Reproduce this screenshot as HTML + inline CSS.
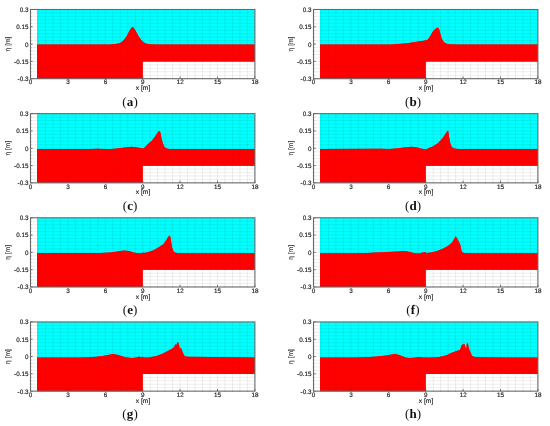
<!DOCTYPE html>
<html><head><meta charset="utf-8"><title>Figure</title>
<style>
html,body{margin:0;padding:0;background:#fff;}
body{width:550px;height:426px;overflow:hidden;}
svg{display:block}
.t{font-family:"Liberation Sans",sans-serif;font-size:6.3px;fill:#1a1a1a;stroke:#1a1a1a;stroke-width:0.15px;text-rendering:geometricPrecision;}
.c{font-family:"Liberation Serif",serif;font-size:13px;fill:#111;letter-spacing:0.15px;text-rendering:geometricPrecision;}
.a{font-size:6.7px}
.b{font-weight:bold}
</style></head><body>
<svg width="550" height="426" viewBox="0 0 550 426">
<rect width="550" height="426" fill="#fff"/>
<g transform="translate(30.5,9.5)">
<rect x="0" y="0" width="224.4" height="69.2" fill="#fff"/>
<rect x="6.5" y="0" width="217.9" height="52.05" fill="#00ffff"/>
<path d="M6.50,35.10 L70.00,35.10 L79.50,34.90 L84.70,34.50 L89.10,33.70 L91.70,32.06 L93.90,29.79 L96.10,26.70 L97.80,23.50 L99.40,20.41 L100.90,18.20 L102.00,17.50 L103.20,18.20 L104.80,20.82 L106.60,23.92 L108.30,27.11 L110.50,30.31 L112.70,32.47 L115.30,34.00 L118.80,34.70 L124.90,35.10 L224.00,35.10 L224.4,35.1 L224.4,52.05 L112.25,52.05 L112.25,69.2 L6.5,69.2 Z" fill="#ff0000"/>
<path d="M7.48,0V69.2M14.96,0V69.2M22.44,0V69.2M29.92,0V69.2M37.40,0V69.2M44.88,0V69.2M52.36,0V69.2M59.84,0V69.2M67.32,0V69.2M74.80,0V69.2M82.28,0V69.2M89.76,0V69.2M97.24,0V69.2M104.72,0V69.2M112.20,0V69.2M119.68,0V69.2M127.16,0V69.2M134.64,0V69.2M142.12,0V69.2M149.60,0V69.2M157.08,0V69.2M164.56,0V69.2M172.04,0V69.2M179.52,0V69.2M187.00,0V69.2M194.48,0V69.2M201.96,0V69.2M209.44,0V69.2M216.92,0V69.2M0,3.46H224.4M0,6.92H224.4M0,10.38H224.4M0,13.84H224.4M0,17.30H224.4M0,20.76H224.4M0,24.22H224.4M0,27.68H224.4M0,31.14H224.4M0,34.60H224.4M0,38.06H224.4M0,41.52H224.4M0,44.98H224.4M0,48.44H224.4M0,51.90H224.4M0,55.36H224.4M0,58.82H224.4M0,62.28H224.4M0,65.74H224.4" stroke="#000" stroke-opacity="0.115" stroke-width="0.6" fill="none"/>
<path d="M6.50,35.10 L70.00,35.10 L79.50,34.90 L84.70,34.50 L89.10,33.70 L91.70,32.06 L93.90,29.79 L96.10,26.70 L97.80,23.50 L99.40,20.41 L100.90,18.20 L102.00,17.50 L103.20,18.20 L104.80,20.82 L106.60,23.92 L108.30,27.11 L110.50,30.31 L112.70,32.47 L115.30,34.00 L118.80,34.70 L124.90,35.10 L224.00,35.10 L224.4,35.1 L224.4,52.05 L112.25,52.05 L112.25,69.2 L6.5,69.2 Z" fill="#ff0000" fill-opacity="0.7"/>
<path d="M0.00,69.2v-2.2M37.40,69.2v-2.2M74.80,69.2v-2.2M112.20,69.2v-2.2M149.60,69.2v-2.2M187.00,69.2v-2.2M224.40,69.2v-2.2M0,0.00h2.2M0,17.30h2.2M0,34.60h2.2M0,51.90h2.2M0,69.20h2.2" stroke="#444" stroke-width="0.7" fill="none"/>
<path d="M7.48,69.2v-1.1M14.96,69.2v-1.1M22.44,69.2v-1.1M29.92,69.2v-1.1M37.40,69.2v-1.1M44.88,69.2v-1.1M52.36,69.2v-1.1M59.84,69.2v-1.1M67.32,69.2v-1.1M74.80,69.2v-1.1M82.28,69.2v-1.1M89.76,69.2v-1.1M97.24,69.2v-1.1M104.72,69.2v-1.1M112.20,69.2v-1.1M119.68,69.2v-1.1M127.16,69.2v-1.1M134.64,69.2v-1.1M142.12,69.2v-1.1M149.60,69.2v-1.1M157.08,69.2v-1.1M164.56,69.2v-1.1M172.04,69.2v-1.1M179.52,69.2v-1.1M187.00,69.2v-1.1M194.48,69.2v-1.1M201.96,69.2v-1.1M209.44,69.2v-1.1M216.92,69.2v-1.1M0,3.46h1.1M0,6.92h1.1M0,10.38h1.1M0,13.84h1.1M0,17.30h1.1M0,20.76h1.1M0,24.22h1.1M0,27.68h1.1M0,31.14h1.1M0,34.60h1.1M0,38.06h1.1M0,41.52h1.1M0,44.98h1.1M0,48.44h1.1M0,51.90h1.1M0,55.36h1.1M0,58.82h1.1M0,62.28h1.1M0,65.74h1.1" stroke="#444" stroke-opacity="0.4" stroke-width="0.6" fill="none"/>
<rect x="0" y="0" width="224.4" height="69.2" fill="none" stroke="#686868" stroke-width="1.1"/>
<text x="-2.1" y="2.40" text-anchor="end" class="t">0.3</text>
<text x="-2.1" y="19.70" text-anchor="end" class="t">0.15</text>
<text x="-2.1" y="37.00" text-anchor="end" class="t">0</text>
<text x="-2.1" y="54.30" text-anchor="end" class="t">-0.15</text>
<text x="-2.1" y="71.60" text-anchor="end" class="t">-0.3</text>
<text x="0.10" y="74.90" text-anchor="middle" class="t">0</text>
<text x="37.50" y="74.90" text-anchor="middle" class="t">3</text>
<text x="74.90" y="74.90" text-anchor="middle" class="t">6</text>
<text x="112.30" y="74.90" text-anchor="middle" class="t">9</text>
<text x="149.70" y="74.90" text-anchor="middle" class="t">12</text>
<text x="187.10" y="74.90" text-anchor="middle" class="t">15</text>
<text x="224.50" y="74.90" text-anchor="middle" class="t">18</text>
<text x="112.55" y="80.80" text-anchor="middle" class="t a">x [m]</text>
<text transform="translate(-20.9,34.5) rotate(-90)" text-anchor="middle" class="t a">η [m]</text>
<text x="99.6" y="96.10" text-anchor="middle" class="c">(<tspan class="b">a</tspan>)</text>
</g>
<g transform="translate(313.5,9.5)">
<rect x="0" y="0" width="224.4" height="69.2" fill="#fff"/>
<rect x="6.5" y="0" width="217.9" height="52.05" fill="#00ffff"/>
<path d="M6.50,35.10 L77.40,35.10 L93.80,33.80 L102.90,32.37 L110.10,31.24 L114.10,30.31 L116.50,27.11 L119.20,22.37 L122.00,19.20 L124.30,18.10 L125.60,19.60 L126.90,24.23 L128.30,28.97 L130.10,32.37 L132.30,34.00 L135.60,34.70 L142.90,35.10 L224.00,35.10 L224.4,35.1 L224.4,52.05 L112.25,52.05 L112.25,69.2 L6.5,69.2 Z" fill="#ff0000"/>
<path d="M7.48,0V69.2M14.96,0V69.2M22.44,0V69.2M29.92,0V69.2M37.40,0V69.2M44.88,0V69.2M52.36,0V69.2M59.84,0V69.2M67.32,0V69.2M74.80,0V69.2M82.28,0V69.2M89.76,0V69.2M97.24,0V69.2M104.72,0V69.2M112.20,0V69.2M119.68,0V69.2M127.16,0V69.2M134.64,0V69.2M142.12,0V69.2M149.60,0V69.2M157.08,0V69.2M164.56,0V69.2M172.04,0V69.2M179.52,0V69.2M187.00,0V69.2M194.48,0V69.2M201.96,0V69.2M209.44,0V69.2M216.92,0V69.2M0,3.46H224.4M0,6.92H224.4M0,10.38H224.4M0,13.84H224.4M0,17.30H224.4M0,20.76H224.4M0,24.22H224.4M0,27.68H224.4M0,31.14H224.4M0,34.60H224.4M0,38.06H224.4M0,41.52H224.4M0,44.98H224.4M0,48.44H224.4M0,51.90H224.4M0,55.36H224.4M0,58.82H224.4M0,62.28H224.4M0,65.74H224.4" stroke="#000" stroke-opacity="0.115" stroke-width="0.6" fill="none"/>
<path d="M6.50,35.10 L77.40,35.10 L93.80,33.80 L102.90,32.37 L110.10,31.24 L114.10,30.31 L116.50,27.11 L119.20,22.37 L122.00,19.20 L124.30,18.10 L125.60,19.60 L126.90,24.23 L128.30,28.97 L130.10,32.37 L132.30,34.00 L135.60,34.70 L142.90,35.10 L224.00,35.10 L224.4,35.1 L224.4,52.05 L112.25,52.05 L112.25,69.2 L6.5,69.2 Z" fill="#ff0000" fill-opacity="0.7"/>
<path d="M0.00,69.2v-2.2M37.40,69.2v-2.2M74.80,69.2v-2.2M112.20,69.2v-2.2M149.60,69.2v-2.2M187.00,69.2v-2.2M224.40,69.2v-2.2M0,0.00h2.2M0,17.30h2.2M0,34.60h2.2M0,51.90h2.2M0,69.20h2.2" stroke="#444" stroke-width="0.7" fill="none"/>
<path d="M7.48,69.2v-1.1M14.96,69.2v-1.1M22.44,69.2v-1.1M29.92,69.2v-1.1M37.40,69.2v-1.1M44.88,69.2v-1.1M52.36,69.2v-1.1M59.84,69.2v-1.1M67.32,69.2v-1.1M74.80,69.2v-1.1M82.28,69.2v-1.1M89.76,69.2v-1.1M97.24,69.2v-1.1M104.72,69.2v-1.1M112.20,69.2v-1.1M119.68,69.2v-1.1M127.16,69.2v-1.1M134.64,69.2v-1.1M142.12,69.2v-1.1M149.60,69.2v-1.1M157.08,69.2v-1.1M164.56,69.2v-1.1M172.04,69.2v-1.1M179.52,69.2v-1.1M187.00,69.2v-1.1M194.48,69.2v-1.1M201.96,69.2v-1.1M209.44,69.2v-1.1M216.92,69.2v-1.1M0,3.46h1.1M0,6.92h1.1M0,10.38h1.1M0,13.84h1.1M0,17.30h1.1M0,20.76h1.1M0,24.22h1.1M0,27.68h1.1M0,31.14h1.1M0,34.60h1.1M0,38.06h1.1M0,41.52h1.1M0,44.98h1.1M0,48.44h1.1M0,51.90h1.1M0,55.36h1.1M0,58.82h1.1M0,62.28h1.1M0,65.74h1.1" stroke="#444" stroke-opacity="0.4" stroke-width="0.6" fill="none"/>
<rect x="0" y="0" width="224.4" height="69.2" fill="none" stroke="#686868" stroke-width="1.1"/>
<text x="-2.1" y="2.40" text-anchor="end" class="t">0.3</text>
<text x="-2.1" y="19.70" text-anchor="end" class="t">0.15</text>
<text x="-2.1" y="37.00" text-anchor="end" class="t">0</text>
<text x="-2.1" y="54.30" text-anchor="end" class="t">-0.15</text>
<text x="-2.1" y="71.60" text-anchor="end" class="t">-0.3</text>
<text x="0.10" y="74.90" text-anchor="middle" class="t">0</text>
<text x="37.50" y="74.90" text-anchor="middle" class="t">3</text>
<text x="74.90" y="74.90" text-anchor="middle" class="t">6</text>
<text x="112.30" y="74.90" text-anchor="middle" class="t">9</text>
<text x="149.70" y="74.90" text-anchor="middle" class="t">12</text>
<text x="187.10" y="74.90" text-anchor="middle" class="t">15</text>
<text x="224.50" y="74.90" text-anchor="middle" class="t">18</text>
<text x="112.55" y="80.80" text-anchor="middle" class="t a">x [m]</text>
<text transform="translate(-20.9,34.5) rotate(-90)" text-anchor="middle" class="t a">η [m]</text>
<text x="99.6" y="96.10" text-anchor="middle" class="c">(<tspan class="b">b</tspan>)</text>
</g>
<g transform="translate(30.5,113.65)">
<rect x="0" y="0" width="224.4" height="69.2" fill="#fff"/>
<rect x="6.5" y="0" width="217.9" height="52.05" fill="#00ffff"/>
<path d="M6.50,35.30 L59.50,35.30 L66.80,35.05 L74.00,35.30 L81.30,35.30 L90.40,34.40 L95.90,33.50 L101.30,33.08 L106.80,33.80 L111.30,34.70 L113.10,34.90 L115.00,32.87 L117.70,30.04 L121.30,27.22 L124.90,22.41 L127.70,18.10 L129.10,17.40 L130.00,19.20 L131.00,24.29 L132.20,29.10 L133.70,32.87 L135.50,34.70 L138.60,35.30 L224.00,35.30 L224.4,35.300000000000004 L224.4,52.05 L112.25,52.05 L112.25,69.2 L6.5,69.2 Z" fill="#ff0000"/>
<path d="M7.48,0V69.2M14.96,0V69.2M22.44,0V69.2M29.92,0V69.2M37.40,0V69.2M44.88,0V69.2M52.36,0V69.2M59.84,0V69.2M67.32,0V69.2M74.80,0V69.2M82.28,0V69.2M89.76,0V69.2M97.24,0V69.2M104.72,0V69.2M112.20,0V69.2M119.68,0V69.2M127.16,0V69.2M134.64,0V69.2M142.12,0V69.2M149.60,0V69.2M157.08,0V69.2M164.56,0V69.2M172.04,0V69.2M179.52,0V69.2M187.00,0V69.2M194.48,0V69.2M201.96,0V69.2M209.44,0V69.2M216.92,0V69.2M0,3.46H224.4M0,6.92H224.4M0,10.38H224.4M0,13.84H224.4M0,17.30H224.4M0,20.76H224.4M0,24.22H224.4M0,27.68H224.4M0,31.14H224.4M0,34.60H224.4M0,38.06H224.4M0,41.52H224.4M0,44.98H224.4M0,48.44H224.4M0,51.90H224.4M0,55.36H224.4M0,58.82H224.4M0,62.28H224.4M0,65.74H224.4" stroke="#000" stroke-opacity="0.115" stroke-width="0.6" fill="none"/>
<path d="M6.50,35.30 L59.50,35.30 L66.80,35.05 L74.00,35.30 L81.30,35.30 L90.40,34.40 L95.90,33.50 L101.30,33.08 L106.80,33.80 L111.30,34.70 L113.10,34.90 L115.00,32.87 L117.70,30.04 L121.30,27.22 L124.90,22.41 L127.70,18.10 L129.10,17.40 L130.00,19.20 L131.00,24.29 L132.20,29.10 L133.70,32.87 L135.50,34.70 L138.60,35.30 L224.00,35.30 L224.4,35.300000000000004 L224.4,52.05 L112.25,52.05 L112.25,69.2 L6.5,69.2 Z" fill="#ff0000" fill-opacity="0.7"/>
<path d="M0.00,69.2v-2.2M37.40,69.2v-2.2M74.80,69.2v-2.2M112.20,69.2v-2.2M149.60,69.2v-2.2M187.00,69.2v-2.2M224.40,69.2v-2.2M0,0.00h2.2M0,17.30h2.2M0,34.60h2.2M0,51.90h2.2M0,69.20h2.2" stroke="#444" stroke-width="0.7" fill="none"/>
<path d="M7.48,69.2v-1.1M14.96,69.2v-1.1M22.44,69.2v-1.1M29.92,69.2v-1.1M37.40,69.2v-1.1M44.88,69.2v-1.1M52.36,69.2v-1.1M59.84,69.2v-1.1M67.32,69.2v-1.1M74.80,69.2v-1.1M82.28,69.2v-1.1M89.76,69.2v-1.1M97.24,69.2v-1.1M104.72,69.2v-1.1M112.20,69.2v-1.1M119.68,69.2v-1.1M127.16,69.2v-1.1M134.64,69.2v-1.1M142.12,69.2v-1.1M149.60,69.2v-1.1M157.08,69.2v-1.1M164.56,69.2v-1.1M172.04,69.2v-1.1M179.52,69.2v-1.1M187.00,69.2v-1.1M194.48,69.2v-1.1M201.96,69.2v-1.1M209.44,69.2v-1.1M216.92,69.2v-1.1M0,3.46h1.1M0,6.92h1.1M0,10.38h1.1M0,13.84h1.1M0,17.30h1.1M0,20.76h1.1M0,24.22h1.1M0,27.68h1.1M0,31.14h1.1M0,34.60h1.1M0,38.06h1.1M0,41.52h1.1M0,44.98h1.1M0,48.44h1.1M0,51.90h1.1M0,55.36h1.1M0,58.82h1.1M0,62.28h1.1M0,65.74h1.1" stroke="#444" stroke-opacity="0.4" stroke-width="0.6" fill="none"/>
<rect x="0" y="0" width="224.4" height="69.2" fill="none" stroke="#686868" stroke-width="1.1"/>
<text x="-2.1" y="2.40" text-anchor="end" class="t">0.3</text>
<text x="-2.1" y="19.70" text-anchor="end" class="t">0.15</text>
<text x="-2.1" y="37.00" text-anchor="end" class="t">0</text>
<text x="-2.1" y="54.30" text-anchor="end" class="t">-0.15</text>
<text x="-2.1" y="71.60" text-anchor="end" class="t">-0.3</text>
<text x="0.10" y="74.90" text-anchor="middle" class="t">0</text>
<text x="37.50" y="74.90" text-anchor="middle" class="t">3</text>
<text x="74.90" y="74.90" text-anchor="middle" class="t">6</text>
<text x="112.30" y="74.90" text-anchor="middle" class="t">9</text>
<text x="149.70" y="74.90" text-anchor="middle" class="t">12</text>
<text x="187.10" y="74.90" text-anchor="middle" class="t">15</text>
<text x="224.50" y="74.90" text-anchor="middle" class="t">18</text>
<text x="112.55" y="80.80" text-anchor="middle" class="t a">x [m]</text>
<text transform="translate(-20.9,34.5) rotate(-90)" text-anchor="middle" class="t a">η [m]</text>
<text x="99.6" y="96.10" text-anchor="middle" class="c">(<tspan class="b">c</tspan>)</text>
</g>
<g transform="translate(313.5,113.65)">
<rect x="0" y="0" width="224.4" height="69.2" fill="#fff"/>
<rect x="6.5" y="0" width="217.9" height="52.05" fill="#00ffff"/>
<path d="M6.50,35.30 L66.50,35.10 L75.60,35.30 L84.70,34.70 L92.00,33.60 L98.30,33.08 L102.90,33.60 L108.30,35.10 L112.90,35.80 L114.70,34.70 L119.20,32.87 L124.70,29.42 L129.20,24.29 L132.30,19.60 L134.10,17.00 L134.90,17.80 L135.60,23.35 L136.70,29.10 L138.30,33.29 L140.70,34.90 L144.70,35.30 L224.00,35.30 L224.4,35.300000000000004 L224.4,52.05 L112.25,52.05 L112.25,69.2 L6.5,69.2 Z" fill="#ff0000"/>
<path d="M7.48,0V69.2M14.96,0V69.2M22.44,0V69.2M29.92,0V69.2M37.40,0V69.2M44.88,0V69.2M52.36,0V69.2M59.84,0V69.2M67.32,0V69.2M74.80,0V69.2M82.28,0V69.2M89.76,0V69.2M97.24,0V69.2M104.72,0V69.2M112.20,0V69.2M119.68,0V69.2M127.16,0V69.2M134.64,0V69.2M142.12,0V69.2M149.60,0V69.2M157.08,0V69.2M164.56,0V69.2M172.04,0V69.2M179.52,0V69.2M187.00,0V69.2M194.48,0V69.2M201.96,0V69.2M209.44,0V69.2M216.92,0V69.2M0,3.46H224.4M0,6.92H224.4M0,10.38H224.4M0,13.84H224.4M0,17.30H224.4M0,20.76H224.4M0,24.22H224.4M0,27.68H224.4M0,31.14H224.4M0,34.60H224.4M0,38.06H224.4M0,41.52H224.4M0,44.98H224.4M0,48.44H224.4M0,51.90H224.4M0,55.36H224.4M0,58.82H224.4M0,62.28H224.4M0,65.74H224.4" stroke="#000" stroke-opacity="0.115" stroke-width="0.6" fill="none"/>
<path d="M6.50,35.30 L66.50,35.10 L75.60,35.30 L84.70,34.70 L92.00,33.60 L98.30,33.08 L102.90,33.60 L108.30,35.10 L112.90,35.80 L114.70,34.70 L119.20,32.87 L124.70,29.42 L129.20,24.29 L132.30,19.60 L134.10,17.00 L134.90,17.80 L135.60,23.35 L136.70,29.10 L138.30,33.29 L140.70,34.90 L144.70,35.30 L224.00,35.30 L224.4,35.300000000000004 L224.4,52.05 L112.25,52.05 L112.25,69.2 L6.5,69.2 Z" fill="#ff0000" fill-opacity="0.7"/>
<path d="M0.00,69.2v-2.2M37.40,69.2v-2.2M74.80,69.2v-2.2M112.20,69.2v-2.2M149.60,69.2v-2.2M187.00,69.2v-2.2M224.40,69.2v-2.2M0,0.00h2.2M0,17.30h2.2M0,34.60h2.2M0,51.90h2.2M0,69.20h2.2" stroke="#444" stroke-width="0.7" fill="none"/>
<path d="M7.48,69.2v-1.1M14.96,69.2v-1.1M22.44,69.2v-1.1M29.92,69.2v-1.1M37.40,69.2v-1.1M44.88,69.2v-1.1M52.36,69.2v-1.1M59.84,69.2v-1.1M67.32,69.2v-1.1M74.80,69.2v-1.1M82.28,69.2v-1.1M89.76,69.2v-1.1M97.24,69.2v-1.1M104.72,69.2v-1.1M112.20,69.2v-1.1M119.68,69.2v-1.1M127.16,69.2v-1.1M134.64,69.2v-1.1M142.12,69.2v-1.1M149.60,69.2v-1.1M157.08,69.2v-1.1M164.56,69.2v-1.1M172.04,69.2v-1.1M179.52,69.2v-1.1M187.00,69.2v-1.1M194.48,69.2v-1.1M201.96,69.2v-1.1M209.44,69.2v-1.1M216.92,69.2v-1.1M0,3.46h1.1M0,6.92h1.1M0,10.38h1.1M0,13.84h1.1M0,17.30h1.1M0,20.76h1.1M0,24.22h1.1M0,27.68h1.1M0,31.14h1.1M0,34.60h1.1M0,38.06h1.1M0,41.52h1.1M0,44.98h1.1M0,48.44h1.1M0,51.90h1.1M0,55.36h1.1M0,58.82h1.1M0,62.28h1.1M0,65.74h1.1" stroke="#444" stroke-opacity="0.4" stroke-width="0.6" fill="none"/>
<rect x="0" y="0" width="224.4" height="69.2" fill="none" stroke="#686868" stroke-width="1.1"/>
<text x="-2.1" y="2.40" text-anchor="end" class="t">0.3</text>
<text x="-2.1" y="19.70" text-anchor="end" class="t">0.15</text>
<text x="-2.1" y="37.00" text-anchor="end" class="t">0</text>
<text x="-2.1" y="54.30" text-anchor="end" class="t">-0.15</text>
<text x="-2.1" y="71.60" text-anchor="end" class="t">-0.3</text>
<text x="0.10" y="74.90" text-anchor="middle" class="t">0</text>
<text x="37.50" y="74.90" text-anchor="middle" class="t">3</text>
<text x="74.90" y="74.90" text-anchor="middle" class="t">6</text>
<text x="112.30" y="74.90" text-anchor="middle" class="t">9</text>
<text x="149.70" y="74.90" text-anchor="middle" class="t">12</text>
<text x="187.10" y="74.90" text-anchor="middle" class="t">15</text>
<text x="224.50" y="74.90" text-anchor="middle" class="t">18</text>
<text x="112.55" y="80.80" text-anchor="middle" class="t a">x [m]</text>
<text transform="translate(-20.9,34.5) rotate(-90)" text-anchor="middle" class="t a">η [m]</text>
<text x="99.6" y="96.10" text-anchor="middle" class="c">(<tspan class="b">d</tspan>)</text>
</g>
<g transform="translate(30.5,217.8)">
<rect x="0" y="0" width="224.4" height="69.2" fill="#fff"/>
<rect x="6.5" y="0" width="217.9" height="52.05" fill="#00ffff"/>
<path d="M6.50,35.30 L59.50,35.20 L70.40,35.20 L79.50,34.60 L86.80,33.59 L93.10,32.65 L98.60,33.28 L104.00,35.00 L108.60,35.50 L111.30,35.40 L112.60,34.60 L113.50,35.20 L117.70,34.30 L123.10,32.44 L128.60,29.27 L133.10,26.11 L135.90,22.21 L137.70,19.00 L139.10,17.60 L140.00,19.40 L140.80,25.06 L141.70,29.91 L143.10,33.70 L145.00,35.00 L148.60,35.40 L224.00,35.40 L224.4,35.400000000000006 L224.4,52.05 L112.25,52.05 L112.25,69.2 L6.5,69.2 Z" fill="#ff0000"/>
<path d="M7.48,0V69.2M14.96,0V69.2M22.44,0V69.2M29.92,0V69.2M37.40,0V69.2M44.88,0V69.2M52.36,0V69.2M59.84,0V69.2M67.32,0V69.2M74.80,0V69.2M82.28,0V69.2M89.76,0V69.2M97.24,0V69.2M104.72,0V69.2M112.20,0V69.2M119.68,0V69.2M127.16,0V69.2M134.64,0V69.2M142.12,0V69.2M149.60,0V69.2M157.08,0V69.2M164.56,0V69.2M172.04,0V69.2M179.52,0V69.2M187.00,0V69.2M194.48,0V69.2M201.96,0V69.2M209.44,0V69.2M216.92,0V69.2M0,3.46H224.4M0,6.92H224.4M0,10.38H224.4M0,13.84H224.4M0,17.30H224.4M0,20.76H224.4M0,24.22H224.4M0,27.68H224.4M0,31.14H224.4M0,34.60H224.4M0,38.06H224.4M0,41.52H224.4M0,44.98H224.4M0,48.44H224.4M0,51.90H224.4M0,55.36H224.4M0,58.82H224.4M0,62.28H224.4M0,65.74H224.4" stroke="#000" stroke-opacity="0.115" stroke-width="0.6" fill="none"/>
<path d="M6.50,35.30 L59.50,35.20 L70.40,35.20 L79.50,34.60 L86.80,33.59 L93.10,32.65 L98.60,33.28 L104.00,35.00 L108.60,35.50 L111.30,35.40 L112.60,34.60 L113.50,35.20 L117.70,34.30 L123.10,32.44 L128.60,29.27 L133.10,26.11 L135.90,22.21 L137.70,19.00 L139.10,17.60 L140.00,19.40 L140.80,25.06 L141.70,29.91 L143.10,33.70 L145.00,35.00 L148.60,35.40 L224.00,35.40 L224.4,35.400000000000006 L224.4,52.05 L112.25,52.05 L112.25,69.2 L6.5,69.2 Z" fill="#ff0000" fill-opacity="0.7"/>
<path d="M0.00,69.2v-2.2M37.40,69.2v-2.2M74.80,69.2v-2.2M112.20,69.2v-2.2M149.60,69.2v-2.2M187.00,69.2v-2.2M224.40,69.2v-2.2M0,0.00h2.2M0,17.30h2.2M0,34.60h2.2M0,51.90h2.2M0,69.20h2.2" stroke="#444" stroke-width="0.7" fill="none"/>
<path d="M7.48,69.2v-1.1M14.96,69.2v-1.1M22.44,69.2v-1.1M29.92,69.2v-1.1M37.40,69.2v-1.1M44.88,69.2v-1.1M52.36,69.2v-1.1M59.84,69.2v-1.1M67.32,69.2v-1.1M74.80,69.2v-1.1M82.28,69.2v-1.1M89.76,69.2v-1.1M97.24,69.2v-1.1M104.72,69.2v-1.1M112.20,69.2v-1.1M119.68,69.2v-1.1M127.16,69.2v-1.1M134.64,69.2v-1.1M142.12,69.2v-1.1M149.60,69.2v-1.1M157.08,69.2v-1.1M164.56,69.2v-1.1M172.04,69.2v-1.1M179.52,69.2v-1.1M187.00,69.2v-1.1M194.48,69.2v-1.1M201.96,69.2v-1.1M209.44,69.2v-1.1M216.92,69.2v-1.1M0,3.46h1.1M0,6.92h1.1M0,10.38h1.1M0,13.84h1.1M0,17.30h1.1M0,20.76h1.1M0,24.22h1.1M0,27.68h1.1M0,31.14h1.1M0,34.60h1.1M0,38.06h1.1M0,41.52h1.1M0,44.98h1.1M0,48.44h1.1M0,51.90h1.1M0,55.36h1.1M0,58.82h1.1M0,62.28h1.1M0,65.74h1.1" stroke="#444" stroke-opacity="0.4" stroke-width="0.6" fill="none"/>
<rect x="0" y="0" width="224.4" height="69.2" fill="none" stroke="#686868" stroke-width="1.1"/>
<text x="-2.1" y="2.40" text-anchor="end" class="t">0.3</text>
<text x="-2.1" y="19.70" text-anchor="end" class="t">0.15</text>
<text x="-2.1" y="37.00" text-anchor="end" class="t">0</text>
<text x="-2.1" y="54.30" text-anchor="end" class="t">-0.15</text>
<text x="-2.1" y="71.60" text-anchor="end" class="t">-0.3</text>
<text x="0.10" y="74.90" text-anchor="middle" class="t">0</text>
<text x="37.50" y="74.90" text-anchor="middle" class="t">3</text>
<text x="74.90" y="74.90" text-anchor="middle" class="t">6</text>
<text x="112.30" y="74.90" text-anchor="middle" class="t">9</text>
<text x="149.70" y="74.90" text-anchor="middle" class="t">12</text>
<text x="187.10" y="74.90" text-anchor="middle" class="t">15</text>
<text x="224.50" y="74.90" text-anchor="middle" class="t">18</text>
<text x="112.55" y="80.80" text-anchor="middle" class="t a">x [m]</text>
<text transform="translate(-20.9,34.5) rotate(-90)" text-anchor="middle" class="t a">η [m]</text>
<text x="99.6" y="96.10" text-anchor="middle" class="c">(<tspan class="b">e</tspan>)</text>
</g>
<g transform="translate(313.5,217.8)">
<rect x="0" y="0" width="224.4" height="69.2" fill="#fff"/>
<rect x="6.5" y="0" width="217.9" height="52.05" fill="#00ffff"/>
<path d="M6.50,35.40 L40.00,35.40 L54.00,35.10 L62.00,34.80 L70.00,34.40 L78.00,34.00 L84.00,33.59 L89.50,33.17 L93.00,33.49 L96.50,34.30 L101.00,35.50 L105.60,35.70 L109.20,34.80 L112.00,34.30 L112.70,35.20 L117.40,34.80 L122.90,33.49 L129.20,30.85 L134.70,28.01 L138.30,25.06 L140.70,21.26 L142.10,18.20 L143.80,20.95 L145.50,24.22 L146.80,26.85 L147.45,29.91 L148.00,32.86 L149.00,34.70 L150.80,35.30 L155.60,35.50 L224.00,35.50 L224.4,35.5 L224.4,52.05 L112.25,52.05 L112.25,69.2 L6.5,69.2 Z" fill="#ff0000"/>
<path d="M7.48,0V69.2M14.96,0V69.2M22.44,0V69.2M29.92,0V69.2M37.40,0V69.2M44.88,0V69.2M52.36,0V69.2M59.84,0V69.2M67.32,0V69.2M74.80,0V69.2M82.28,0V69.2M89.76,0V69.2M97.24,0V69.2M104.72,0V69.2M112.20,0V69.2M119.68,0V69.2M127.16,0V69.2M134.64,0V69.2M142.12,0V69.2M149.60,0V69.2M157.08,0V69.2M164.56,0V69.2M172.04,0V69.2M179.52,0V69.2M187.00,0V69.2M194.48,0V69.2M201.96,0V69.2M209.44,0V69.2M216.92,0V69.2M0,3.46H224.4M0,6.92H224.4M0,10.38H224.4M0,13.84H224.4M0,17.30H224.4M0,20.76H224.4M0,24.22H224.4M0,27.68H224.4M0,31.14H224.4M0,34.60H224.4M0,38.06H224.4M0,41.52H224.4M0,44.98H224.4M0,48.44H224.4M0,51.90H224.4M0,55.36H224.4M0,58.82H224.4M0,62.28H224.4M0,65.74H224.4" stroke="#000" stroke-opacity="0.115" stroke-width="0.6" fill="none"/>
<path d="M6.50,35.40 L40.00,35.40 L54.00,35.10 L62.00,34.80 L70.00,34.40 L78.00,34.00 L84.00,33.59 L89.50,33.17 L93.00,33.49 L96.50,34.30 L101.00,35.50 L105.60,35.70 L109.20,34.80 L112.00,34.30 L112.70,35.20 L117.40,34.80 L122.90,33.49 L129.20,30.85 L134.70,28.01 L138.30,25.06 L140.70,21.26 L142.10,18.20 L143.80,20.95 L145.50,24.22 L146.80,26.85 L147.45,29.91 L148.00,32.86 L149.00,34.70 L150.80,35.30 L155.60,35.50 L224.00,35.50 L224.4,35.5 L224.4,52.05 L112.25,52.05 L112.25,69.2 L6.5,69.2 Z" fill="#ff0000" fill-opacity="0.7"/>
<path d="M0.00,69.2v-2.2M37.40,69.2v-2.2M74.80,69.2v-2.2M112.20,69.2v-2.2M149.60,69.2v-2.2M187.00,69.2v-2.2M224.40,69.2v-2.2M0,0.00h2.2M0,17.30h2.2M0,34.60h2.2M0,51.90h2.2M0,69.20h2.2" stroke="#444" stroke-width="0.7" fill="none"/>
<path d="M7.48,69.2v-1.1M14.96,69.2v-1.1M22.44,69.2v-1.1M29.92,69.2v-1.1M37.40,69.2v-1.1M44.88,69.2v-1.1M52.36,69.2v-1.1M59.84,69.2v-1.1M67.32,69.2v-1.1M74.80,69.2v-1.1M82.28,69.2v-1.1M89.76,69.2v-1.1M97.24,69.2v-1.1M104.72,69.2v-1.1M112.20,69.2v-1.1M119.68,69.2v-1.1M127.16,69.2v-1.1M134.64,69.2v-1.1M142.12,69.2v-1.1M149.60,69.2v-1.1M157.08,69.2v-1.1M164.56,69.2v-1.1M172.04,69.2v-1.1M179.52,69.2v-1.1M187.00,69.2v-1.1M194.48,69.2v-1.1M201.96,69.2v-1.1M209.44,69.2v-1.1M216.92,69.2v-1.1M0,3.46h1.1M0,6.92h1.1M0,10.38h1.1M0,13.84h1.1M0,17.30h1.1M0,20.76h1.1M0,24.22h1.1M0,27.68h1.1M0,31.14h1.1M0,34.60h1.1M0,38.06h1.1M0,41.52h1.1M0,44.98h1.1M0,48.44h1.1M0,51.90h1.1M0,55.36h1.1M0,58.82h1.1M0,62.28h1.1M0,65.74h1.1" stroke="#444" stroke-opacity="0.4" stroke-width="0.6" fill="none"/>
<rect x="0" y="0" width="224.4" height="69.2" fill="none" stroke="#686868" stroke-width="1.1"/>
<text x="-2.1" y="2.40" text-anchor="end" class="t">0.3</text>
<text x="-2.1" y="19.70" text-anchor="end" class="t">0.15</text>
<text x="-2.1" y="37.00" text-anchor="end" class="t">0</text>
<text x="-2.1" y="54.30" text-anchor="end" class="t">-0.15</text>
<text x="-2.1" y="71.60" text-anchor="end" class="t">-0.3</text>
<text x="0.10" y="74.90" text-anchor="middle" class="t">0</text>
<text x="37.50" y="74.90" text-anchor="middle" class="t">3</text>
<text x="74.90" y="74.90" text-anchor="middle" class="t">6</text>
<text x="112.30" y="74.90" text-anchor="middle" class="t">9</text>
<text x="149.70" y="74.90" text-anchor="middle" class="t">12</text>
<text x="187.10" y="74.90" text-anchor="middle" class="t">15</text>
<text x="224.50" y="74.90" text-anchor="middle" class="t">18</text>
<text x="112.55" y="80.80" text-anchor="middle" class="t a">x [m]</text>
<text transform="translate(-20.9,34.5) rotate(-90)" text-anchor="middle" class="t a">η [m]</text>
<text x="99.6" y="96.10" text-anchor="middle" class="c">(<tspan class="b">f</tspan>)</text>
</g>
<g transform="translate(30.5,321.95)">
<rect x="0" y="0" width="224.4" height="69.2" fill="#fff"/>
<rect x="6.5" y="0" width="217.9" height="52.05" fill="#00ffff"/>
<path d="M6.50,35.55 L50.00,35.55 L58.00,35.35 L66.00,34.85 L72.00,34.05 L77.00,33.00 L82.50,32.15 L87.00,32.78 L91.00,34.15 L95.00,35.35 L101.30,35.95 L105.90,35.45 L108.60,34.65 L110.40,35.45 L112.20,34.85 L112.80,35.55 L118.60,35.45 L125.90,34.15 L133.10,31.40 L135.70,29.85 L139.20,28.16 L142.20,26.37 L143.70,25.08 L144.40,22.98 L145.10,22.29 L146.00,22.98 L146.60,20.80 L147.20,20.10 L147.90,20.80 L148.60,23.39 L149.20,26.37 L150.50,26.17 L151.40,28.16 L152.40,30.75 L153.60,33.37 L154.90,34.60 L157.50,34.90 L224.00,35.55 L224.4,35.550000000000004 L224.4,52.05 L112.25,52.05 L112.25,69.2 L6.5,69.2 Z" fill="#ff0000"/>
<path d="M7.48,0V69.2M14.96,0V69.2M22.44,0V69.2M29.92,0V69.2M37.40,0V69.2M44.88,0V69.2M52.36,0V69.2M59.84,0V69.2M67.32,0V69.2M74.80,0V69.2M82.28,0V69.2M89.76,0V69.2M97.24,0V69.2M104.72,0V69.2M112.20,0V69.2M119.68,0V69.2M127.16,0V69.2M134.64,0V69.2M142.12,0V69.2M149.60,0V69.2M157.08,0V69.2M164.56,0V69.2M172.04,0V69.2M179.52,0V69.2M187.00,0V69.2M194.48,0V69.2M201.96,0V69.2M209.44,0V69.2M216.92,0V69.2M0,3.46H224.4M0,6.92H224.4M0,10.38H224.4M0,13.84H224.4M0,17.30H224.4M0,20.76H224.4M0,24.22H224.4M0,27.68H224.4M0,31.14H224.4M0,34.60H224.4M0,38.06H224.4M0,41.52H224.4M0,44.98H224.4M0,48.44H224.4M0,51.90H224.4M0,55.36H224.4M0,58.82H224.4M0,62.28H224.4M0,65.74H224.4" stroke="#000" stroke-opacity="0.115" stroke-width="0.6" fill="none"/>
<path d="M6.50,35.55 L50.00,35.55 L58.00,35.35 L66.00,34.85 L72.00,34.05 L77.00,33.00 L82.50,32.15 L87.00,32.78 L91.00,34.15 L95.00,35.35 L101.30,35.95 L105.90,35.45 L108.60,34.65 L110.40,35.45 L112.20,34.85 L112.80,35.55 L118.60,35.45 L125.90,34.15 L133.10,31.40 L135.70,29.85 L139.20,28.16 L142.20,26.37 L143.70,25.08 L144.40,22.98 L145.10,22.29 L146.00,22.98 L146.60,20.80 L147.20,20.10 L147.90,20.80 L148.60,23.39 L149.20,26.37 L150.50,26.17 L151.40,28.16 L152.40,30.75 L153.60,33.37 L154.90,34.60 L157.50,34.90 L224.00,35.55 L224.4,35.550000000000004 L224.4,52.05 L112.25,52.05 L112.25,69.2 L6.5,69.2 Z" fill="#ff0000" fill-opacity="0.7"/>
<path d="M0.00,69.2v-2.2M37.40,69.2v-2.2M74.80,69.2v-2.2M112.20,69.2v-2.2M149.60,69.2v-2.2M187.00,69.2v-2.2M224.40,69.2v-2.2M0,0.00h2.2M0,17.30h2.2M0,34.60h2.2M0,51.90h2.2M0,69.20h2.2" stroke="#444" stroke-width="0.7" fill="none"/>
<path d="M7.48,69.2v-1.1M14.96,69.2v-1.1M22.44,69.2v-1.1M29.92,69.2v-1.1M37.40,69.2v-1.1M44.88,69.2v-1.1M52.36,69.2v-1.1M59.84,69.2v-1.1M67.32,69.2v-1.1M74.80,69.2v-1.1M82.28,69.2v-1.1M89.76,69.2v-1.1M97.24,69.2v-1.1M104.72,69.2v-1.1M112.20,69.2v-1.1M119.68,69.2v-1.1M127.16,69.2v-1.1M134.64,69.2v-1.1M142.12,69.2v-1.1M149.60,69.2v-1.1M157.08,69.2v-1.1M164.56,69.2v-1.1M172.04,69.2v-1.1M179.52,69.2v-1.1M187.00,69.2v-1.1M194.48,69.2v-1.1M201.96,69.2v-1.1M209.44,69.2v-1.1M216.92,69.2v-1.1M0,3.46h1.1M0,6.92h1.1M0,10.38h1.1M0,13.84h1.1M0,17.30h1.1M0,20.76h1.1M0,24.22h1.1M0,27.68h1.1M0,31.14h1.1M0,34.60h1.1M0,38.06h1.1M0,41.52h1.1M0,44.98h1.1M0,48.44h1.1M0,51.90h1.1M0,55.36h1.1M0,58.82h1.1M0,62.28h1.1M0,65.74h1.1" stroke="#444" stroke-opacity="0.4" stroke-width="0.6" fill="none"/>
<rect x="0" y="0" width="224.4" height="69.2" fill="none" stroke="#686868" stroke-width="1.1"/>
<text x="-2.1" y="2.40" text-anchor="end" class="t">0.3</text>
<text x="-2.1" y="19.70" text-anchor="end" class="t">0.15</text>
<text x="-2.1" y="37.00" text-anchor="end" class="t">0</text>
<text x="-2.1" y="54.30" text-anchor="end" class="t">-0.15</text>
<text x="-2.1" y="71.60" text-anchor="end" class="t">-0.3</text>
<text x="0.10" y="74.90" text-anchor="middle" class="t">0</text>
<text x="37.50" y="74.90" text-anchor="middle" class="t">3</text>
<text x="74.90" y="74.90" text-anchor="middle" class="t">6</text>
<text x="112.30" y="74.90" text-anchor="middle" class="t">9</text>
<text x="149.70" y="74.90" text-anchor="middle" class="t">12</text>
<text x="187.10" y="74.90" text-anchor="middle" class="t">15</text>
<text x="224.50" y="74.90" text-anchor="middle" class="t">18</text>
<text x="112.55" y="80.80" text-anchor="middle" class="t a">x [m]</text>
<text transform="translate(-20.9,34.5) rotate(-90)" text-anchor="middle" class="t a">η [m]</text>
<text x="99.6" y="96.10" text-anchor="middle" class="c">(<tspan class="b">g</tspan>)</text>
</g>
<g transform="translate(313.5,321.95)">
<rect x="0" y="0" width="224.4" height="69.2" fill="#fff"/>
<rect x="6.5" y="0" width="217.9" height="52.05" fill="#00ffff"/>
<path d="M6.50,35.65 L40.00,35.55 L51.00,35.25 L60.00,34.85 L68.00,34.15 L74.00,33.32 L78.00,32.57 L81.50,32.15 L85.00,32.78 L88.50,34.15 L92.00,35.45 L96.50,36.15 L102.00,35.65 L105.60,35.05 L109.20,35.55 L118.30,35.55 L125.60,35.05 L132.90,33.21 L138.30,30.87 L142.90,28.95 L146.40,28.16 L147.20,25.98 L148.10,23.39 L149.20,22.49 L151.00,22.09 L151.60,24.28 L152.20,27.02 L152.90,25.08 L153.40,21.64 L154.00,20.30 L154.50,21.64 L155.10,25.08 L156.00,28.16 L156.80,29.85 L157.70,32.05 L158.60,33.90 L160.30,34.90 L165.60,35.40 L224.00,35.55 L224.4,35.550000000000004 L224.4,52.05 L112.25,52.05 L112.25,69.2 L6.5,69.2 Z" fill="#ff0000"/>
<path d="M7.48,0V69.2M14.96,0V69.2M22.44,0V69.2M29.92,0V69.2M37.40,0V69.2M44.88,0V69.2M52.36,0V69.2M59.84,0V69.2M67.32,0V69.2M74.80,0V69.2M82.28,0V69.2M89.76,0V69.2M97.24,0V69.2M104.72,0V69.2M112.20,0V69.2M119.68,0V69.2M127.16,0V69.2M134.64,0V69.2M142.12,0V69.2M149.60,0V69.2M157.08,0V69.2M164.56,0V69.2M172.04,0V69.2M179.52,0V69.2M187.00,0V69.2M194.48,0V69.2M201.96,0V69.2M209.44,0V69.2M216.92,0V69.2M0,3.46H224.4M0,6.92H224.4M0,10.38H224.4M0,13.84H224.4M0,17.30H224.4M0,20.76H224.4M0,24.22H224.4M0,27.68H224.4M0,31.14H224.4M0,34.60H224.4M0,38.06H224.4M0,41.52H224.4M0,44.98H224.4M0,48.44H224.4M0,51.90H224.4M0,55.36H224.4M0,58.82H224.4M0,62.28H224.4M0,65.74H224.4" stroke="#000" stroke-opacity="0.115" stroke-width="0.6" fill="none"/>
<path d="M6.50,35.65 L40.00,35.55 L51.00,35.25 L60.00,34.85 L68.00,34.15 L74.00,33.32 L78.00,32.57 L81.50,32.15 L85.00,32.78 L88.50,34.15 L92.00,35.45 L96.50,36.15 L102.00,35.65 L105.60,35.05 L109.20,35.55 L118.30,35.55 L125.60,35.05 L132.90,33.21 L138.30,30.87 L142.90,28.95 L146.40,28.16 L147.20,25.98 L148.10,23.39 L149.20,22.49 L151.00,22.09 L151.60,24.28 L152.20,27.02 L152.90,25.08 L153.40,21.64 L154.00,20.30 L154.50,21.64 L155.10,25.08 L156.00,28.16 L156.80,29.85 L157.70,32.05 L158.60,33.90 L160.30,34.90 L165.60,35.40 L224.00,35.55 L224.4,35.550000000000004 L224.4,52.05 L112.25,52.05 L112.25,69.2 L6.5,69.2 Z" fill="#ff0000" fill-opacity="0.7"/>
<path d="M0.00,69.2v-2.2M37.40,69.2v-2.2M74.80,69.2v-2.2M112.20,69.2v-2.2M149.60,69.2v-2.2M187.00,69.2v-2.2M224.40,69.2v-2.2M0,0.00h2.2M0,17.30h2.2M0,34.60h2.2M0,51.90h2.2M0,69.20h2.2" stroke="#444" stroke-width="0.7" fill="none"/>
<path d="M7.48,69.2v-1.1M14.96,69.2v-1.1M22.44,69.2v-1.1M29.92,69.2v-1.1M37.40,69.2v-1.1M44.88,69.2v-1.1M52.36,69.2v-1.1M59.84,69.2v-1.1M67.32,69.2v-1.1M74.80,69.2v-1.1M82.28,69.2v-1.1M89.76,69.2v-1.1M97.24,69.2v-1.1M104.72,69.2v-1.1M112.20,69.2v-1.1M119.68,69.2v-1.1M127.16,69.2v-1.1M134.64,69.2v-1.1M142.12,69.2v-1.1M149.60,69.2v-1.1M157.08,69.2v-1.1M164.56,69.2v-1.1M172.04,69.2v-1.1M179.52,69.2v-1.1M187.00,69.2v-1.1M194.48,69.2v-1.1M201.96,69.2v-1.1M209.44,69.2v-1.1M216.92,69.2v-1.1M0,3.46h1.1M0,6.92h1.1M0,10.38h1.1M0,13.84h1.1M0,17.30h1.1M0,20.76h1.1M0,24.22h1.1M0,27.68h1.1M0,31.14h1.1M0,34.60h1.1M0,38.06h1.1M0,41.52h1.1M0,44.98h1.1M0,48.44h1.1M0,51.90h1.1M0,55.36h1.1M0,58.82h1.1M0,62.28h1.1M0,65.74h1.1" stroke="#444" stroke-opacity="0.4" stroke-width="0.6" fill="none"/>
<rect x="0" y="0" width="224.4" height="69.2" fill="none" stroke="#686868" stroke-width="1.1"/>
<text x="-2.1" y="2.40" text-anchor="end" class="t">0.3</text>
<text x="-2.1" y="19.70" text-anchor="end" class="t">0.15</text>
<text x="-2.1" y="37.00" text-anchor="end" class="t">0</text>
<text x="-2.1" y="54.30" text-anchor="end" class="t">-0.15</text>
<text x="-2.1" y="71.60" text-anchor="end" class="t">-0.3</text>
<text x="0.10" y="74.90" text-anchor="middle" class="t">0</text>
<text x="37.50" y="74.90" text-anchor="middle" class="t">3</text>
<text x="74.90" y="74.90" text-anchor="middle" class="t">6</text>
<text x="112.30" y="74.90" text-anchor="middle" class="t">9</text>
<text x="149.70" y="74.90" text-anchor="middle" class="t">12</text>
<text x="187.10" y="74.90" text-anchor="middle" class="t">15</text>
<text x="224.50" y="74.90" text-anchor="middle" class="t">18</text>
<text x="112.55" y="80.80" text-anchor="middle" class="t a">x [m]</text>
<text transform="translate(-20.9,34.5) rotate(-90)" text-anchor="middle" class="t a">η [m]</text>
<text x="99.6" y="96.10" text-anchor="middle" class="c">(<tspan class="b">h</tspan>)</text>
</g>
</svg></body></html>
